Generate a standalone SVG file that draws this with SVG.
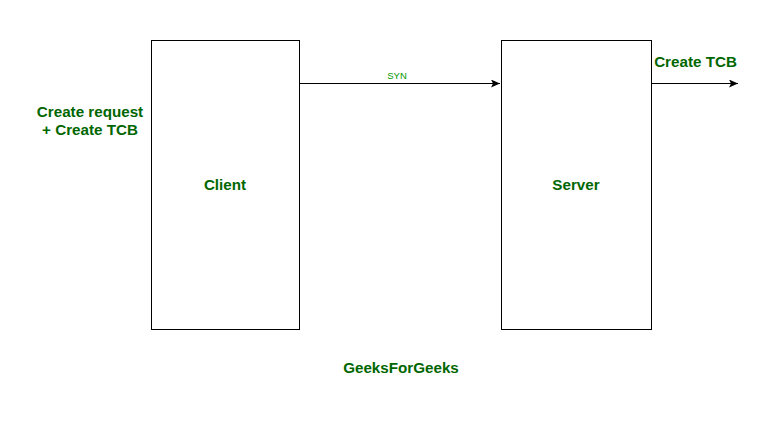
<svg xmlns="http://www.w3.org/2000/svg" width="768" height="421" viewBox="0 0 768 421">
<style>
.box{fill:#fff;stroke:#000;stroke-width:1}
.lbl{font-family:"Liberation Sans",Arial,sans-serif;font-weight:bold;font-size:15.2px;fill:#006600;text-anchor:middle}
.small{font-family:"Liberation Sans",Arial,sans-serif;font-size:9.5px;fill:#009900;text-anchor:middle}
.edge{stroke:#000;stroke-width:1;fill:none}
</style>
<defs>
<marker id="arr" markerWidth="10" markerHeight="8" refX="9" refY="4" orient="auto" markerUnits="userSpaceOnUse">
<path d="M0,0 L9,4 L0,8 L2,4 Z" fill="#000"/>
</marker>
</defs>
<rect width="768" height="421" fill="#fff"/>
<g id="client">
<rect class="box" x="151.5" y="40.5" width="148" height="289"/>
<text class="lbl" x="225" y="190">Client</text>
</g>
<g id="server">
<rect class="box" x="501.5" y="40.5" width="150" height="289"/>
<text class="lbl" x="576" y="190">Server</text>
</g>
<g id="connectors">
<line class="edge" x1="300" y1="83.5" x2="500" y2="83.5" marker-end="url(#arr)"/>
<text class="small" x="397" y="79">SYN</text>
<line class="edge" x1="652" y1="83.5" x2="738" y2="83.5" marker-end="url(#arr)"/>
</g>
<g id="labels">
<text class="lbl" x="90" y="117">Create request</text>
<text class="lbl" x="90" y="135">+ Create TCB</text>
<text class="lbl" x="695.5" y="67">Create TCB</text>
<text class="lbl" x="401" y="373">GeeksForGeeks</text>
</g>
</svg>
